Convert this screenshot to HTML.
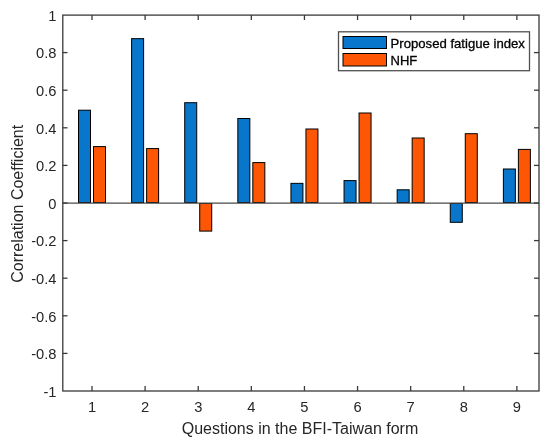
<!DOCTYPE html>
<html><head><meta charset="utf-8"><style>
html,body{margin:0;padding:0;background:#fff;width:550px;height:442px;overflow:hidden}
svg{display:block}
text{font-family:"Liberation Sans",Arial,sans-serif;fill:#262626}
</style></head><body>
<svg width="550" height="442" viewBox="0 0 550 442">
<rect width="550" height="442" fill="#fff"/>
<rect x="78.50" y="110.20" width="12" height="92.30" fill="#0876CA" stroke="#000" stroke-width="1"/>
<rect x="93.50" y="146.60" width="12" height="55.90" fill="#FD5706" stroke="#000" stroke-width="1"/>
<rect x="131.61" y="38.65" width="12" height="163.85" fill="#0876CA" stroke="#000" stroke-width="1"/>
<rect x="146.61" y="148.57" width="12" height="53.93" fill="#FD5706" stroke="#000" stroke-width="1"/>
<rect x="184.72" y="102.70" width="12" height="99.80" fill="#0876CA" stroke="#000" stroke-width="1"/>
<rect x="199.72" y="203.50" width="12" height="27.60" fill="#FD5706" stroke="#000" stroke-width="1"/>
<rect x="237.83" y="118.50" width="12" height="84.00" fill="#0876CA" stroke="#000" stroke-width="1"/>
<rect x="252.83" y="162.60" width="12" height="39.90" fill="#FD5706" stroke="#000" stroke-width="1"/>
<rect x="290.94" y="183.35" width="12" height="19.15" fill="#0876CA" stroke="#000" stroke-width="1"/>
<rect x="305.94" y="129.00" width="12" height="73.50" fill="#FD5706" stroke="#000" stroke-width="1"/>
<rect x="344.05" y="180.60" width="12" height="21.90" fill="#0876CA" stroke="#000" stroke-width="1"/>
<rect x="359.05" y="113.00" width="12" height="89.50" fill="#FD5706" stroke="#000" stroke-width="1"/>
<rect x="397.16" y="189.80" width="12" height="12.70" fill="#0876CA" stroke="#000" stroke-width="1"/>
<rect x="412.16" y="138.00" width="12" height="64.50" fill="#FD5706" stroke="#000" stroke-width="1"/>
<rect x="450.27" y="203.50" width="12" height="18.80" fill="#0876CA" stroke="#000" stroke-width="1"/>
<rect x="465.27" y="133.70" width="12" height="68.80" fill="#FD5706" stroke="#000" stroke-width="1"/>
<rect x="503.38" y="169.00" width="12" height="33.50" fill="#0876CA" stroke="#000" stroke-width="1"/>
<rect x="518.38" y="149.40" width="12" height="53.10" fill="#FD5706" stroke="#000" stroke-width="1"/>
<line x1="62.8" y1="203.2" x2="539" y2="203.2" stroke="#4a4a4a" stroke-width="1.2"/>
<g stroke="#3a3a3a" stroke-width="1.3" fill="none">
<rect x="62.8" y="15.1" width="476.2" height="375.9"/>
<line x1="92.00" y1="391" x2="92.00" y2="386"/>
<line x1="92.00" y1="15" x2="92.00" y2="20"/>
<line x1="145.11" y1="391" x2="145.11" y2="386"/>
<line x1="145.11" y1="15" x2="145.11" y2="20"/>
<line x1="198.22" y1="391" x2="198.22" y2="386"/>
<line x1="198.22" y1="15" x2="198.22" y2="20"/>
<line x1="251.33" y1="391" x2="251.33" y2="386"/>
<line x1="251.33" y1="15" x2="251.33" y2="20"/>
<line x1="304.44" y1="391" x2="304.44" y2="386"/>
<line x1="304.44" y1="15" x2="304.44" y2="20"/>
<line x1="357.55" y1="391" x2="357.55" y2="386"/>
<line x1="357.55" y1="15" x2="357.55" y2="20"/>
<line x1="410.66" y1="391" x2="410.66" y2="386"/>
<line x1="410.66" y1="15" x2="410.66" y2="20"/>
<line x1="463.77" y1="391" x2="463.77" y2="386"/>
<line x1="463.77" y1="15" x2="463.77" y2="20"/>
<line x1="516.88" y1="391" x2="516.88" y2="386"/>
<line x1="516.88" y1="15" x2="516.88" y2="20"/>
<line x1="62.8" y1="353.40" x2="67.5" y2="353.40"/>
<line x1="539" y1="353.40" x2="534" y2="353.40"/>
<line x1="62.8" y1="315.80" x2="67.5" y2="315.80"/>
<line x1="539" y1="315.80" x2="534" y2="315.80"/>
<line x1="62.8" y1="278.20" x2="67.5" y2="278.20"/>
<line x1="539" y1="278.20" x2="534" y2="278.20"/>
<line x1="62.8" y1="240.60" x2="67.5" y2="240.60"/>
<line x1="539" y1="240.60" x2="534" y2="240.60"/>
<line x1="62.8" y1="203.00" x2="67.5" y2="203.00"/>
<line x1="539" y1="203.00" x2="534" y2="203.00"/>
<line x1="62.8" y1="165.40" x2="67.5" y2="165.40"/>
<line x1="539" y1="165.40" x2="534" y2="165.40"/>
<line x1="62.8" y1="127.80" x2="67.5" y2="127.80"/>
<line x1="539" y1="127.80" x2="534" y2="127.80"/>
<line x1="62.8" y1="90.20" x2="67.5" y2="90.20"/>
<line x1="539" y1="90.20" x2="534" y2="90.20"/>
<line x1="62.8" y1="52.60" x2="67.5" y2="52.60"/>
<line x1="539" y1="52.60" x2="534" y2="52.60"/>
</g>
<g font-size="14.7">
<text x="56.5" y="396.80" text-anchor="end">-1</text>
<text x="56.5" y="359.20" text-anchor="end">-0.8</text>
<text x="56.5" y="321.60" text-anchor="end">-0.6</text>
<text x="56.5" y="284.00" text-anchor="end">-0.4</text>
<text x="56.5" y="246.40" text-anchor="end">-0.2</text>
<text x="56.5" y="208.80" text-anchor="end">0</text>
<text x="56.5" y="171.20" text-anchor="end">0.2</text>
<text x="56.5" y="133.60" text-anchor="end">0.4</text>
<text x="56.5" y="96.00" text-anchor="end">0.6</text>
<text x="56.5" y="58.40" text-anchor="end">0.8</text>
<text x="56.5" y="20.80" text-anchor="end">1</text>
<text x="92.00" y="412.4" text-anchor="middle">1</text>
<text x="145.11" y="412.4" text-anchor="middle">2</text>
<text x="198.22" y="412.4" text-anchor="middle">3</text>
<text x="251.33" y="412.4" text-anchor="middle">4</text>
<text x="304.44" y="412.4" text-anchor="middle">5</text>
<text x="357.55" y="412.4" text-anchor="middle">6</text>
<text x="410.66" y="412.4" text-anchor="middle">7</text>
<text x="463.77" y="412.4" text-anchor="middle">8</text>
<text x="516.88" y="412.4" text-anchor="middle">9</text>
</g>
<text font-size="16" x="300" y="434.4" text-anchor="middle">Questions in the BFI-Taiwan form</text>
<text font-size="16" transform="translate(22.5,203.8) rotate(-90)" text-anchor="middle">Correlation Coefficient</text>
<g>
<rect x="338.5" y="31.8" width="191" height="38.9" fill="#fff" stroke="#505050" stroke-width="1.3"/>
<rect x="343" y="36.5" width="43.5" height="12" fill="#0876CA" stroke="#000" stroke-width="1"/>
<rect x="343" y="53.5" width="43.5" height="12.5" fill="#FD5706" stroke="#000" stroke-width="1"/>
<text font-size="13.15" x="390.5" y="48" style="fill:#000;stroke:#000;stroke-width:0.3">Proposed fatigue index</text>
<text font-size="13" x="390.5" y="65" style="fill:#000;stroke:#000;stroke-width:0.3">NHF</text>
</g>
</svg>
</body></html>
